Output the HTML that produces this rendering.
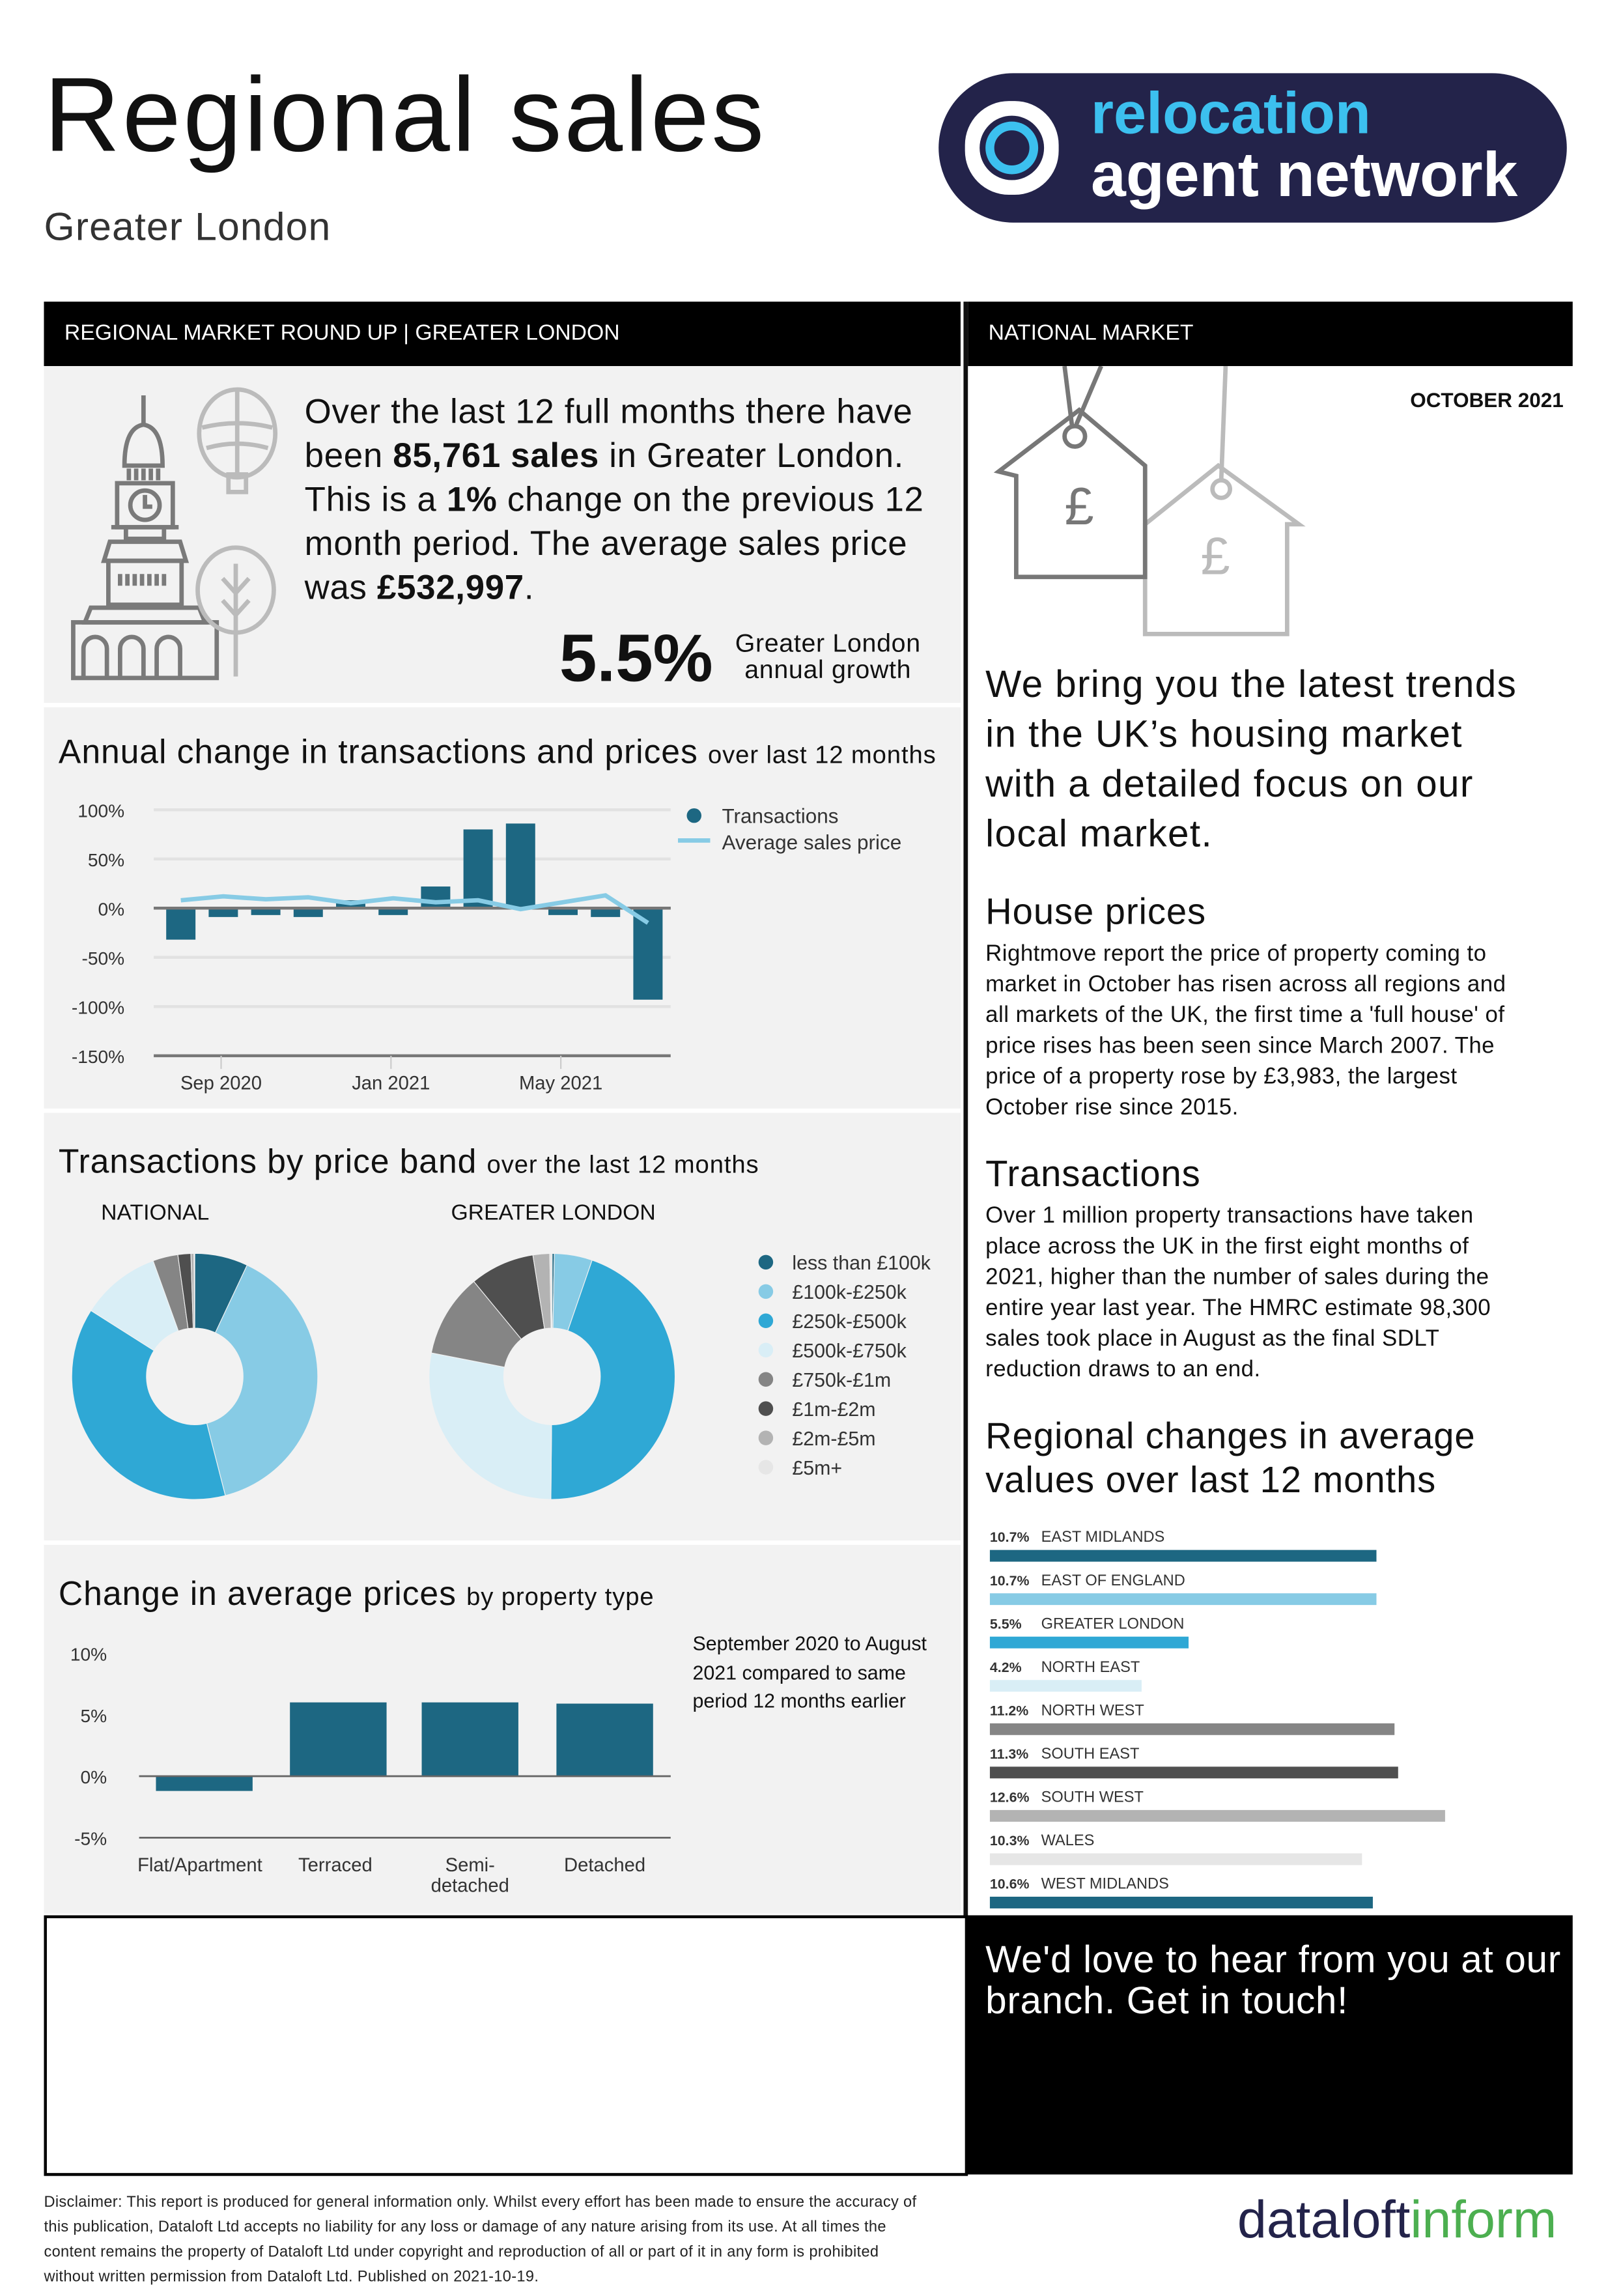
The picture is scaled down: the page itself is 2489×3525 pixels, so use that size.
<!DOCTYPE html>
<html><head><meta charset="utf-8">
<style>
html,body{margin:0;padding:0;background:#fff;width:2489px;height:3525px;overflow:hidden}
#stage{position:absolute;left:0;top:0;width:1107px;height:1568px;transform:scale(2.2484,2.2481);transform-origin:0 0;font-family:"Liberation Sans",sans-serif;color:#111}
.abs{position:absolute}
.gray{background:#f2f2f2}
.hdr{background:#000;color:#fff;font-size:15px;line-height:44px;padding-left:14px}
.t{white-space:nowrap}
.nw{white-space:nowrap}
svg text{font-family:"Liberation Sans",sans-serif}
</style></head><body>
<div id="stage">
<div class="abs t" style="left:30px;top:38px;font-size:72px;letter-spacing:1.5px">Regional sales</div>
<div class="abs t" style="left:30px;top:140px;font-size:27px;color:#333;letter-spacing:0.5px">Greater London</div>

<div class="abs" style="left:641px;top:50px;width:429px;height:102px;border-radius:51px;background:#23234a">
 <svg class="abs" style="left:14px;top:15px" width="72" height="72"><rect x="4" y="4" width="64" height="64" rx="30" fill="#fff"/><circle cx="36" cy="36" r="22" fill="#23234a"/><circle cx="36" cy="36" r="15" fill="none" stroke="#3cc0ef" stroke-width="6"/></svg>
 <div class="abs t" style="left:104px;top:6px;font-size:40px;color:#3cc0ef;font-weight:bold">relocation</div>
 <div class="abs t" style="left:104px;top:46px;font-size:43px;color:#fff;font-weight:bold">agent network</div>
</div>

<div class="abs hdr t" style="left:30px;top:206px;width:612px;height:44px">REGIONAL MARKET ROUND UP | GREATER LONDON</div>
<div class="abs hdr t" style="left:661px;top:206px;width:399px;height:44px">NATIONAL MARKET</div>

<div class="abs gray" style="left:30px;top:250px;width:626px;height:230px">
 <div class="abs nw" style="left:178px;top:16px;font-size:23.5px;line-height:30px;letter-spacing:0.3px">Over the last 12 full months there have<br>been <b>85,761 sales</b> in Greater London.<br>This is a <b>1%</b> change on the previous 12<br>month period. The average sales price<br>was <b>£532,997</b>.</div>
 <div class="abs t" style="left:352px;top:172px;font-size:46px;font-weight:bold">5.5%</div>
 <div class="abs t" style="left:472px;top:180px;font-size:17.5px;line-height:18px;text-align:center;letter-spacing:0.3px">Greater London<br>annual growth</div>
</div>
<svg class="abs" style="left:0;top:0" width="260" height="480" fill="none" stroke-width="3">
 <g stroke="#7a7a7a">
  <line x1="98" y1="270" x2="98" y2="290"/>
  <path d="M85 318 Q85 292 98 290 Q111 292 111 318 Z"/>
  <path d="M88 320v8M93 320v8M98 320v8M103 320v8M108 320v8"/>
  <rect x="80" y="330" width="38" height="30"/>
  <circle cx="99" cy="345" r="10"/>
  <path d="M99 338v8h5"/>
  <path d="M76 360h46M86 360v8h26v-8M75 370l-4 13h56l-4-13z"/>
  <rect x="74" y="383" width="50" height="30"/>
  <path d="M82 392v8M87 392v8M92 392v8M97 392v8M102 392v8M107 392v8M112 392v8"/>
  <path d="M62 415l-4 10h82l-4-10z"/>
  <rect x="50" y="425" width="98" height="38"/>
  <path d="M57 463v-20a8 8 0 0 1 16 0v20M82 463v-20a8 8 0 0 1 16 0v20M107 463v-20a8 8 0 0 1 16 0v20"/>
 </g>
 <g stroke="#bbb">
  <ellipse cx="162" cy="296" rx="26" ry="30"/>
  <path d="M162 266v60M138 292 Q162 286 186 292M141 306 Q162 300 183 306"/>
  <rect x="156" y="324" width="12" height="12"/>
  <ellipse cx="161" cy="403" rx="26" ry="29"/>
  <path d="M161 385v77M152 395l9 10 9-10M152 410l9 10 9-10"/>
 </g>
</svg>

<div class="abs gray" style="left:30px;top:483px;width:626px;height:274px">
 <div class="abs t" style="left:10px;top:17px;font-size:23px;letter-spacing:0.4px">Annual change in transactions and prices <span style="font-size:17px">over last 12 months</span></div>
</div>

<div class="abs gray" style="left:30px;top:760px;width:626px;height:292px">
 <div class="abs t" style="left:10px;top:20px;font-size:23px;letter-spacing:0.4px">Transactions by price band <span style="font-size:17px">over the last 12 months</span></div>
 <div class="abs t" style="left:39px;top:60px;font-size:15px">NATIONAL</div>
 <div class="abs t" style="left:278px;top:60px;font-size:15px">GREATER LONDON</div>
</div>

<div class="abs gray" style="left:30px;top:1055px;width:626px;height:252px">
 <div class="abs t" style="left:10px;top:20px;font-size:23px;letter-spacing:0.4px">Change in average prices <span style="font-size:17px">by property type</span></div>
 <div class="abs nw" style="left:443px;top:58px;font-size:13.5px;line-height:19.5px">September 2020 to August<br>2021 compared to same<br>period 12 months earlier</div>
</div>

<svg class="abs" id="c1" style="left:0;top:0" width="1107" height="1568"></svg>
<svg class="abs" id="c2" style="left:0;top:0" width="1107" height="1568"></svg>
<svg class="abs" id="c3" style="left:0;top:0" width="1107" height="1568"></svg>

<div class="abs" style="left:658px;top:206px;width:3px;height:1102px;background:#111"></div>
<div class="abs t" style="left:963px;top:265px;font-size:14px;font-weight:bold">OCTOBER 2021</div>
<svg class="abs" style="left:672px;top:250px" width="230" height="190" fill="none" stroke-width="3">
 <g stroke="#bbb"><line x1="165" y1="0" x2="162" y2="78"/><circle cx="162" cy="84" r="6"/><path d="M110 183V108l50-40 55 40 -8 0v75z"/><text x="148" y="142" font-size="36" fill="#bbb" stroke="none">£</text></g>
 <g stroke="#777"><line x1="55" y1="0" x2="60" y2="40"/><line x1="80" y1="0" x2="63" y2="40"/><circle cx="62" cy="48" r="7"/><path d="M10 72l55-42 45 38v76H22V75z"/><text x="55" y="108" font-size="36" fill="#777" stroke="none">£</text></g>
</svg>
<div class="abs nw" style="left:673px;top:450px;font-size:26px;line-height:34px;letter-spacing:0.6px">We bring you the latest trends<br>in the UK’s housing market<br>with a detailed focus on our<br>local market.</div>
<div class="abs t" style="left:673px;top:609px;font-size:25px;letter-spacing:0.4px">House prices</div>
<div class="abs nw" style="left:673px;top:641px;font-size:15.5px;line-height:21px;letter-spacing:0.2px">Rightmove report the price of property coming to<br>market in October has risen across all regions and<br>all markets of the UK, the first time a 'full house' of<br>price rises has been seen since March 2007. The<br>price of a property rose by £3,983, the largest<br>October rise since 2015.</div>
<div class="abs t" style="left:673px;top:788px;font-size:25px;letter-spacing:0.4px">Transactions</div>
<div class="abs nw" style="left:673px;top:820px;font-size:15.5px;line-height:21px;letter-spacing:0.2px">Over 1 million property transactions have taken<br>place across the UK in the first eight months of<br>2021, higher than the number of sales during the<br>entire year last year. The HMRC estimate 98,300<br>sales took place in August as the final SDLT<br>reduction draws to an end.</div>
<div class="abs nw" style="left:673px;top:966px;font-size:25px;line-height:30px;letter-spacing:0.4px">Regional changes in average<br>values over last 12 months</div>
<svg class="abs" id="c4" style="left:0;top:0" width="1107" height="1568"></svg>

<div class="abs" style="left:30px;top:1308px;width:627px;height:174px;border:2px solid #000;background:#fff"></div>
<div class="abs" style="left:660px;top:1308px;width:414px;height:177px;background:#000">
 <div class="abs nw" style="left:13px;top:16px;font-size:26px;line-height:28px;color:#fff;letter-spacing:0.3px">We'd love to hear from you at our<br>branch. Get in touch!</div>
</div>
<div class="abs nw" style="left:30px;top:1496px;font-size:10.5px;line-height:17px;color:#222;letter-spacing:0.15px">Disclaimer: This report is produced for general information only. Whilst every effort has been made to ensure the accuracy of<br>this publication, Dataloft Ltd accepts no liability for any loss or damage of any nature arising from its use. At all times the<br>content remains the property of Dataloft Ltd under copyright and reproduction of all or part of it in any form is prohibited<br>without written permission from Dataloft Ltd. Published on 2021-10-19.</div>
<div class="abs t" style="left:845px;top:1495px;font-size:36px;letter-spacing:0px"><span style="color:#23234a">dataloft</span><span style="color:#4caf50">inform</span></div>
</div>

<script>
const NS='http://www.w3.org/2000/svg';
function mk(p,tag,a,txt){const e=document.createElementNS(NS,tag);for(const k in a)e.setAttribute(k,a[k]);if(txt!=null)e.textContent=txt;p.appendChild(e);return e;}
const teal='#1d6782';

/* Chart 1 data */
const months1=['Aug 2020','Sep 2020','Oct 2020','Nov 2020','Dec 2020','Jan 2021','Feb 2021','Mar 2021','Apr 2021','May 2021','Jun 2021','Jul 2021'];
const transactions1=[-32,-9,-7,-9,8,-7,22,80,86,-7,-9,-93];
const avgPrice1=[8,12,9,11,5,10,6,8,-1,6,13,-15];
const yTicks1=[100,50,0,-50,-100,-150];
const xTickLabels1=['Sep 2020','Jan 2021','May 2021'];

/* Chart 2 data */
const bands=['less than £100k','£100k-£250k','£250k-£500k','£500k-£750k','£750k-£1m','£1m-£2m','£2m-£5m','£5m+'];
const nationalShare=[7,39,38,10.5,3.3,1.7,0.4,0.1];
const londonShare=[0.3,5,45,28,11,8.5,2.2,0.3];
const bandColors=['#1d6782','#87cbe5','#2fa8d5','#d9eef6','#858585','#4f4f4f','#b3b3b3','#e6e6e6'];

/* Chart 3 data */
const propTypes=['Flat/Apartment','Terraced','Semi-\ndetached','Detached'];
const propChange=[-1.2,6.0,6.0,5.9];
const yTicks3=[10,5,0,-5];

/* Chart 4 data */
const regions=['EAST MIDLANDS','EAST OF ENGLAND','GREATER LONDON','NORTH EAST','NORTH WEST','SOUTH EAST','SOUTH WEST','WALES','WEST MIDLANDS'];
const regionChange=[10.7,10.7,5.5,4.2,11.2,11.3,12.6,10.3,10.6];
const regionColors=['#1d6782','#87cbe5','#2fa8d5','#d9eef6','#858585','#4f4f4f','#b3b3b3','#e6e6e6','#1d6782'];

/* Chart 1 */
(function(){
 const s=document.getElementById('c1');
 const x0=105,x1=458,yTop=553,yBot=721,vTop=100,vBot=-150;
 const y=v=>yTop+(vTop-v)/(vTop-vBot)*(yBot-yTop);
 const step=29,first=123.5;
 const xc=i=>first+i*step;
 yTicks1.forEach(t=>{
  const strong=(t==0||t==-150);
  const g=mk(s,'line',{x1:x0,x2:x1,y1:y(t),y2:y(t),stroke:strong?'#777':'#e2e2e2','stroke-width':2});
  
  
  const l=mk(s,'text',{x:85,y:y(t)+5,'text-anchor':'end','font-size':12.5,fill:'#333'},t+'%');
  
  
 });
 transactions1.forEach((v,i)=>{
  const r=mk(s,'rect',{x:xc(i)-10,y:Math.min(y(v),y(0)),width:20,height:Math.abs(y(v)-y(0)),fill:teal});
  
  
 });
 mk(s,'line',{x1:x0,x2:x1,y1:y(0),y2:y(0),stroke:'#777','stroke-width':2});
 const pts=avgPrice1.map((v,i)=>xc(i)+','+y(v)).join(' ');
 const pl=mk(s,'polyline',{points:pts,fill:'none',stroke:'#87cbe5','stroke-width':3});
 
 
 xTickLabels1.forEach(lb=>{
  const i=months1.indexOf(lb);const X=xc(i)-1.5;
  mk(s,'line',{x1:X,x2:X,y1:yBot,y2:yBot+9,stroke:'#ccc','stroke-width':1});
  const t=mk(s,'text',{x:X,y:yBot+23,'text-anchor':'middle','font-size':13,fill:'#333'},lb);
  
  
 });
 const lg1=mk(s,'circle',{cx:474,cy:557,r:5,fill:teal});
 
 
 const lt1=mk(s,'text',{x:493,y:562,'font-size':14,fill:'#333'},'Transactions');
 
 
 mk(s,'line',{x1:463,x2:485,y1:574,y2:574,stroke:'#87cbe5','stroke-width':3});
 const lt2=mk(s,'text',{x:493,y:580,'font-size':14,fill:'#333'},'Average sales price');
 
 
})();

/* Chart 2 */
(function(){
 const s=document.getElementById('c2');
 function donut(cx,cy,vals,nm){
  const tot=vals.reduce((a,b)=>a+b,0);let a0=0;const R=84,r=33;
  vals.forEach((v,i)=>{
   const a1=a0+v/tot*Math.PI*2;
   const P=(rad,a)=>[cx+rad*Math.sin(a),cy-rad*Math.cos(a)];
   const [ax,ay]=P(R,a0),[bx,by]=P(R,a1),[cx2,cy2]=P(r,a1),[dx,dy]=P(r,a0);
   const lg=(a1-a0)>Math.PI?1:0;
   const p=mk(s,'path',{d:`M${ax},${ay}A${R},${R} 0 ${lg} 1 ${bx},${by}L${cx2},${cy2}A${r},${r} 0 ${lg} 0 ${dx},${dy}Z`,fill:bandColors[i],stroke:'#f2f2f2','stroke-width':0.5});
   
   
   a0=a1;
  });
 }
 donut(133,940,nationalShare,'national');
 donut(377,940,londonShare,'london');
 bands.forEach((b,i)=>{
  const Y=862+i*20;
  const c=mk(s,'circle',{cx:523,cy:Y,r:5,fill:bandColors[i]});
  
  
  const t=mk(s,'text',{x:541,y:Y+5,'font-size':13.5,fill:'#333'},b);
  
  
 });
})();

/* Chart 3 */
(function(){
 const s=document.getElementById('c3');
 const x0=95,x1=458,yTop=1129,yBot=1255,vTop=10,vBot=-5;
 const y=v=>yTop+(vTop-v)/(vTop-vBot)*(yBot-yTop);
 yTicks3.forEach(t=>{
  if(t==0||t==-5) mk(s,'line',{x1:x0,x2:x1,y1:y(t),y2:y(t),stroke:'#666','stroke-width':1.2});
  const l=mk(s,'text',{x:73,y:y(t)+5,'text-anchor':'end','font-size':12.5,fill:'#333'},t+'%');
  
  
 });
 const bw=66,cs=[139.5,231,321,413];
 propChange.forEach((v,i)=>{
  const r=mk(s,'rect',{x:cs[i]-bw/2,y:Math.min(y(v),y(0)),width:bw,height:Math.abs(y(v)-y(0)),fill:teal});
  
  
  propTypes[i].split('\n').forEach((ln,j)=>{
   const t=mk(s,'text',{x:cs[i]-(i==0?3:i==1?2:0),y:1278+j*14,'text-anchor':'middle','font-size':13,fill:'#333'},ln);
   
   
  });
 });
 mk(s,'line',{x1:x0,x2:x1,y1:y(0),y2:y(0),stroke:'#666','stroke-width':1.2});
})();

/* Chart 4 */
(function(){
 const s=document.getElementById('c4');
 const x0=676,ppu=(940-676)/10.7;
 regions.forEach((r,i)=>{
  const Y=1053+i*29.6;
  const v=mk(s,'text',{x:x0,y:Y,'font-size':9.5,'font-weight':'bold',fill:'#333'},regionChange[i].toFixed(1)+'%');
  
  
  const n=mk(s,'text',{x:711,y:Y,'font-size':10.5,fill:'#333'},r);
  
  
  const b=mk(s,'rect',{x:x0,y:Y+5.5,width:regionChange[i]*ppu,height:8,fill:regionColors[i]});
  
  
 });
})();
</script>
</body></html>
